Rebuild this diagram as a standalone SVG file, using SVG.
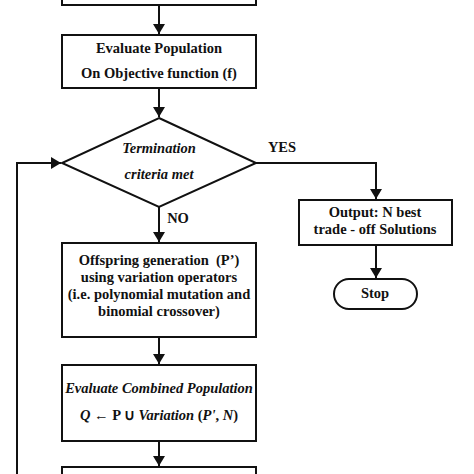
<svg xmlns="http://www.w3.org/2000/svg" width="474" height="474" viewBox="0 0 474 474">
<defs>
<style>
.box{fill:#fff;stroke:#111;stroke-width:2}
.ln{fill:none;stroke:#111;stroke-width:2}
text{font-family:"Liberation Serif","Times New Roman",serif;font-weight:bold;font-size:14.5px;fill:#111;text-anchor:middle}
.it{font-style:italic}
</style>
<marker id="ah" markerWidth="10" markerHeight="12" refX="10" refY="6" orient="auto" markerUnits="userSpaceOnUse">
<path d="M0,0 L10,6 L0,12 Z" fill="#111"/>
</marker>
</defs>
<rect width="474" height="474" fill="#fff"/>
<g id="connectors">
<line class="ln" x1="159" y1="5" x2="159" y2="34" marker-end="url(#ah)"/>
<line class="ln" x1="159" y1="88" x2="159" y2="117" marker-end="url(#ah)"/>
<polyline class="ln" points="256,163 376,163 376,199" marker-end="url(#ah)"/>
<line class="ln" x1="376" y1="245" x2="376" y2="278" marker-end="url(#ah)"/>
<line class="ln" x1="159" y1="207" x2="159" y2="242" marker-end="url(#ah)"/>
<line class="ln" x1="159" y1="337" x2="159" y2="364" marker-end="url(#ah)"/>
<line class="ln" x1="159" y1="441" x2="159" y2="466" marker-end="url(#ah)"/>
<polyline class="ln" points="17,480 17,163 61,163" marker-end="url(#ah)"/>
<text x="282" y="152">YES</text>
<text x="178" y="223">NO</text>
</g>
<g id="top-box"><rect class="box" x="62" y="-10" width="194" height="15"/></g>
<g id="evaluate">
<rect class="box" x="62" y="35" width="194" height="53"/>
<text x="159" y="53">Evaluate Population</text>
<text x="159" y="78">On Objective function (f)</text>
</g>
<g id="termination">
<polygon class="box" points="159,118 256,163 159,207 62,163"/>
<text class="it" x="159" y="153">Termination</text>
<text class="it" x="159" y="179">criteria met</text>
</g>
<g id="output">
<rect class="box" x="299" y="200" width="153" height="45"/>
<text x="375" y="217">Output: N best</text>
<text x="375" y="234">trade - off Solutions</text>
</g>
<g id="stop">
<rect class="box" x="334" y="279" width="83" height="30" rx="15" ry="15"/>
<text x="375" y="298">Stop</text>
</g>
<g id="offspring">
<rect class="box" x="62" y="243" width="194" height="94"/>
<text x="159" y="265" xml:space="preserve">Offspring generation  (P’)</text>
<text x="159" y="282">using variation operators</text>
<text x="159" y="299">(i.e. polynomial mutation and</text>
<text x="159" y="316">binomial crossover)</text>
</g>
<g id="combined">
<rect class="box" x="62" y="365" width="194" height="76"/>
<text class="it" x="159" y="393">Evaluate Combined Population</text>
<text x="159" y="420"><tspan class="it">Q</tspan> ← P ∪ <tspan class="it">Variation</tspan> (<tspan class="it">P'</tspan>, <tspan class="it">N</tspan>)</text>
</g>
<g id="next-box"><rect class="box" x="62" y="467" width="194" height="20"/></g>
</svg>
